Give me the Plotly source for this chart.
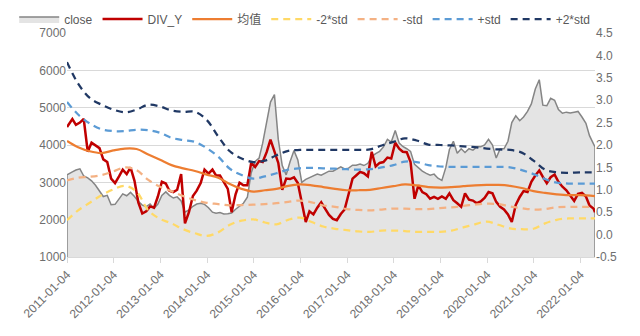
import plotly.graph_objects as go

# ---------------- data ----------------
_months = [f"{y}-{m:02d}-15" for y in range(2011, 2023) for m in range(1, 13)]
dates = ["2011-01-04"] + _months[1:136] + ["2022-04-27"]

close = [
    3200, 3280, 3330, 3360, 3170, 3120, 3040, 2920, 2780, 2620, 2650, 2400,
    2410, 2560, 2690, 2640, 2730, 2620, 2490, 2390, 2350, 2420, 2300, 2420,
    2650, 2745, 2650, 2580, 2610, 2500, 2200, 2260, 2360, 2420, 2440, 2410,
    2320, 2200, 2170, 2190, 2155, 2160, 2180, 2280, 2370, 2440, 2600, 3250,
    3560, 3650, 4050, 4650, 5150, 5350, 4150, 3450, 3200, 3550, 3850, 3600,
    3000, 3080, 3120, 3180, 3220, 3190, 3240, 3300, 3300, 3360, 3415, 3360,
    3380, 3460, 3460, 3490, 3450, 3510, 3690, 3770, 3830, 3950, 4150, 4080,
    4390, 4050, 3960, 3900, 3830, 3480, 3380, 3300, 3240, 3190, 3220, 3110,
    3050, 3400, 3880, 4100, 3780, 3900, 3800, 3900, 3860, 3950, 3950, 4000,
    4150, 4000, 3650, 3900, 3900, 4100, 4600, 4780, 4650, 4750, 4900, 5100,
    5500, 5750, 5066, 5050, 5250, 5200, 4950, 4850, 4880, 4860, 4880, 4900,
    4750, 4580, 4250, 4050, 3950,
]

div_y = [
    2.40, 2.58, 2.45, 2.50, 2.58, 1.85, 2.05, 1.98, 1.93, 1.68, 1.62, 1.25,
    1.15, 1.30, 1.45, 1.35, 1.50, 1.20, 0.72, 0.47, 0.52, 0.63, 0.60, 0.85,
    1.18, 1.14, 0.98, 0.95, 1.00, 1.35, 0.25, 0.50, 0.86, 0.98, 1.15, 1.45,
    1.36, 1.45, 1.32, 1.32, 1.16, 1.02, 0.50, 0.90, 1.16, 1.10, 1.10, 1.60,
    1.51, 1.64, 1.62, 1.84, 2.12, 1.85, 1.60, 1.00, 1.25, 1.24, 1.28, 1.15,
    0.75, 0.28, 0.52, 0.45, 0.60, 0.72, 0.58, 0.44, 0.35, 0.32, 0.46, 0.56,
    0.90, 1.25, 1.32, 1.40, 1.37, 1.30, 1.85, 1.52, 1.60, 1.62, 1.72, 1.70,
    2.05, 1.92, 1.85, 1.84, 1.62, 0.80, 1.10, 0.95, 0.90, 0.80, 0.84, 0.80,
    0.85, 0.80, 0.92, 0.77, 0.70, 0.62, 0.92, 0.78, 0.76, 0.70, 0.74, 0.82,
    0.95, 0.92, 0.73, 0.62, 0.56, 0.45, 0.28, 0.66, 0.84, 0.97, 0.95, 1.18,
    1.32, 1.43, 1.29, 1.15, 1.28, 1.34, 1.18, 1.07, 0.99, 0.88, 0.75, 0.91,
    0.93, 0.85, 0.65, 0.58, 0.50,
]

_quarters = [f"{y}-{m:02d}-01" for y in range(2011, 2023) for m in (1, 4, 7, 10)]
band_dates = ["2011-01-04"] + _quarters[1:45] + ["2022-04-27"]

mean_v = [2.09, 1.95, 1.86, 1.82, 1.88, 1.92, 1.91, 1.79, 1.67, 1.55, 1.48, 1.42,
          1.34, 1.27, 1.13, 1.02, 0.96, 0.99, 1.02, 1.09, 1.12, 1.10, 1.06, 1.02,
          0.99, 0.99, 1.00, 1.04, 1.08, 1.12, 1.10, 1.06, 1.05, 1.06, 1.08, 1.10,
          1.11, 1.11, 1.09, 1.04, 0.97, 0.93, 0.90, 0.88, 0.88, 0.86]
minus2_std = [0.32, 0.54, 0.71, 0.88, 1.01, 1.09, 0.96, 0.54, 0.35, 0.25, 0.12, 0.03,
              -0.03, 0.05, 0.22, 0.31, 0.34, 0.27, 0.23, 0.33, 0.38, 0.28, 0.18, 0.13,
              0.10, 0.07, 0.06, 0.09, 0.09, 0.08, 0.06, 0.06, 0.06, 0.09, 0.16, 0.23,
              0.29, 0.22, 0.14, 0.12, 0.13, 0.25, 0.33, 0.36, 0.36, 0.36]
minus_std = [1.21, 1.27, 1.29, 1.33, 1.41, 1.50, 1.44, 1.22, 1.07, 0.97, 0.86, 0.77,
             0.71, 0.68, 0.65, 0.66, 0.67, 0.68, 0.70, 0.73, 0.76, 0.72, 0.65, 0.62,
             0.57, 0.55, 0.54, 0.56, 0.58, 0.58, 0.57, 0.57, 0.59, 0.61, 0.64, 0.67,
             0.69, 0.68, 0.63, 0.59, 0.56, 0.57, 0.61, 0.62, 0.62, 0.62]
plus_std = [2.96, 2.68, 2.48, 2.35, 2.31, 2.31, 2.34, 2.33, 2.27, 2.16, 2.11, 2.07,
            1.93, 1.74, 1.47, 1.33, 1.25, 1.30, 1.37, 1.45, 1.48, 1.49, 1.48, 1.47,
            1.46, 1.45, 1.46, 1.50, 1.55, 1.63, 1.62, 1.55, 1.52, 1.51, 1.51, 1.51,
            1.51, 1.51, 1.50, 1.44, 1.35, 1.24, 1.16, 1.14, 1.14, 1.14]
plus2_std = [3.85, 3.37, 3.05, 2.90, 2.79, 2.73, 2.79, 2.90, 2.86, 2.77, 2.74, 2.74,
             2.56, 2.19, 1.86, 1.70, 1.62, 1.65, 1.77, 1.87, 1.89, 1.89, 1.89, 1.89,
             1.89, 1.89, 1.90, 1.99, 2.07, 2.15, 2.10, 2.01, 2.00, 1.99, 1.97, 1.95,
             1.92, 1.90, 1.89, 1.83, 1.65, 1.45, 1.39, 1.38, 1.39, 1.39]

year_ticks = [f"{y}-01-04" for y in range(2011, 2023)]
left_ticks = [1000, 2000, 3000, 4000, 5000, 6000, 7000]
right_ticks = [-0.5, 0.0, 0.5, 1.0, 1.5, 2.0, 2.5, 3.0, 3.5, 4.0, 4.5]

# ---------------- styling ----------------
FONT = "Liberation Sans, Noto Sans CJK SC, sans-serif"
TXT = "#6E6E6E"
GRID = "#D9D9D9"
LEFT_MIN, LEFT_MAX = 1000, 7000

fig = go.Figure()

# area (with vertical edges down to the axis minimum, like Excel's area border)
fig.add_trace(go.Scatter(
    x=[dates[0]] + dates + [dates[-1]],
    y=[LEFT_MIN] + close + [LEFT_MIN],
    name="close", mode="lines", fill="tozeroy",
    fillcolor="#E4E4E4", line=dict(color="#858585", width=1.5),
    yaxis="y",
))

fig.add_trace(go.Scatter(x=dates, y=div_y, name="DIV_Y", mode="lines",
                         line=dict(color="#C00000", width=2.5), yaxis="y2"))
fig.add_trace(go.Scatter(x=band_dates, y=mean_v, name="均值", mode="lines",
                         line=dict(color="#ED7D31", width=2.25, shape="spline"),
                         yaxis="y2"))
DASH = "7px,5px"
for name, vals, col in [("-2*std", minus2_std, "#FFD966"),
                        ("-std", minus_std, "#F4B183"),
                        ("+std", plus_std, "#5B9BD5"),
                        ("+2*std", plus2_std, "#203864")]:
    fig.add_trace(go.Scatter(x=band_dates, y=vals, name=name, mode="lines",
                             line=dict(color=col, width=2.25, dash=DASH,
                                       shape="spline"),
                             yaxis="y2"))

fig.update_layout(
    width=640, height=336,
    margin=dict(l=67, r=45, t=33, b=79, autoexpand=False),
    paper_bgcolor="white", plot_bgcolor="white",
    font=dict(family=FONT, size=12, color=TXT),
    showlegend=True,
    legend=dict(orientation="h", xref="paper", yref="paper",
                x=-0.10, xanchor="left", y=1.0625, yanchor="middle",
                font=dict(family=FONT, size=12, color="#595959"),
                bgcolor="rgba(0,0,0,0)", itemwidth=40, tracegroupgap=0),
    hovermode=False,
    xaxis=dict(type="date", range=[dates[0], dates[-1]],
               tickvals=year_ticks, ticktext=year_ticks, tickangle=-45,
               ticks="outside", ticklen=5, tickcolor=GRID,
               showline=True, linecolor=GRID, linewidth=1,
               showgrid=False, zeroline=False,
               tickfont=dict(family=FONT, size=12, color=TXT)),
    yaxis=dict(range=[LEFT_MIN, LEFT_MAX], tickvals=left_ticks,
               ticktext=[str(v) for v in left_ticks],
               showgrid=True, gridcolor=GRID, gridwidth=1,
               zeroline=False, showline=False, ticks="",
               tickfont=dict(family=FONT, size=12, color=TXT)),
    yaxis2=dict(range=[-0.5, 4.5], overlaying="y", side="right",
                tickvals=right_ticks, ticktext=[f"{v:.1f}" for v in right_ticks],
                showgrid=False, zeroline=False, showline=False, ticks="",
                tickfont=dict(family=FONT, size=12, color=TXT)),
)

fig.write_html("out.html")
